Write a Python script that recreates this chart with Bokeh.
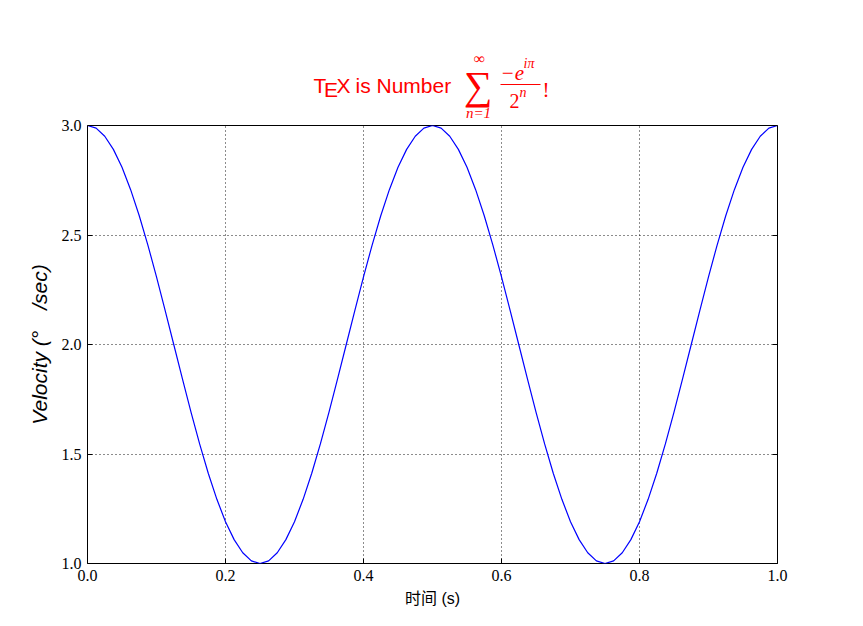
from bokeh.plotting import figure
from bokeh.layouts import column
from bokeh.models import (LinearAxis, FixedTicker, PrintfTickFormatter,
                          Range1d, CustomJSTickFormatter)
from bokeh.core.properties import value
from bokeh.embed import file_html
from bokeh.resources import INLINE

# ---------------- data ----------------
time_s = [0.0, 0.0125, 0.025, 0.0375, 0.05, 0.0625, 0.075, 0.0875, 0.1, 0.1125,
          0.125, 0.1375, 0.15, 0.1625, 0.175, 0.1875, 0.2, 0.2125, 0.225, 0.2375,
          0.25, 0.2625, 0.275, 0.2875, 0.3, 0.3125, 0.325, 0.3375, 0.35, 0.3625,
          0.375, 0.3875, 0.4, 0.4125, 0.425, 0.4375, 0.45, 0.4625, 0.475, 0.4875,
          0.5, 0.5125, 0.525, 0.5375, 0.55, 0.5625, 0.575, 0.5875, 0.6, 0.6125,
          0.625, 0.6375, 0.65, 0.6625, 0.675, 0.6875, 0.7, 0.7125, 0.725, 0.7375,
          0.75, 0.7625, 0.775, 0.7875, 0.8, 0.8125, 0.825, 0.8375, 0.85, 0.8625,
          0.875, 0.8875, 0.9, 0.9125, 0.925, 0.9375, 0.95, 0.9625, 0.975, 0.9875,
          1.0]
velocity = [3.000, 2.988, 2.951, 2.891, 2.809, 2.707, 2.588, 2.454, 2.309, 2.156,
            2.000, 1.844, 1.691, 1.546, 1.412, 1.293, 1.191, 1.109, 1.049, 1.012,
            1.000, 1.012, 1.049, 1.109, 1.191, 1.293, 1.412, 1.546, 1.691, 1.844,
            2.000, 2.156, 2.309, 2.454, 2.588, 2.707, 2.809, 2.891, 2.951, 2.988,
            3.000, 2.988, 2.951, 2.891, 2.809, 2.707, 2.588, 2.454, 2.309, 2.156,
            2.000, 1.844, 1.691, 1.546, 1.412, 1.293, 1.191, 1.109, 1.049, 1.012,
            1.000, 1.012, 1.049, 1.109, 1.191, 1.293, 1.412, 1.546, 1.691, 1.844,
            2.000, 2.156, 2.309, 2.454, 2.588, 2.707, 2.809, 2.891, 2.951, 2.988,
            3.000]
x_ticks = [0.0, 0.2, 0.4, 0.6, 0.8, 1.0]
y_ticks = [1.0, 1.5, 2.0, 2.5, 3.0]
x_label = "时间 (s)"
y_label = "Velocity (°\u2003/sec)"

# ---------------- layout ----------------
W = 855
TH = 125                   # height of the title strip
OV = 20                    # overlap of the main plot onto the title strip
MH = 618 - TH + OV         # height of the main plot
FL, FR = 87, 777           # frame left / right in pixels
FT, FB = OV, 563 - TH + OV # frame top / bottom inside the main plot
X0, X1, Y0, Y1 = 0.0, 1.0, 1.0, 3.0

SERIF = "Liberation Serif"
SANS = "Liberation Sans"
RED = "#ff0000"

# ---------------- title strip (coordinates = page pixels) ----------------
tf = figure(width=W, height=TH, output_backend="svg", toolbar_location=None,
            x_range=Range1d(FL, FR), y_range=Range1d(TH, 0),
            x_axis_type=None, y_axis_type=None,
            min_border_left=FL, min_border_right=W - FR,
            min_border_top=0, min_border_bottom=0,
            margin=(0, 0, -OV, 0))
tf.title = None
tf.grid.visible = False
tf.outline_line_color = None
tf.background_fill_color = "white"
tf.border_fill_color = "white"


def piece(text, px, py, size, font, style="normal", align="left", baseline="alphabetic"):
    tf.text(x=[px], y=[py], text=[text], text_font=value(font),
            text_font_size=value(f"{size}px"), text_font_style=style,
            text_color=RED, text_align=align, text_baseline=baseline)


piece("T", 313, 85, 21, SANS)
piece("E", 323.5, 89, 21, SANS)
piece("X", 336, 85, 21, SANS)
piece("is Number", 355, 85, 21, SANS)
piece("∑", 477.5, 85, 40, SERIF, align="center", baseline="middle")
piece("∞", 479, 58, 16, SERIF, align="center", baseline="middle")
piece("n=1", 478, 112, 15, SERIF, style="italic", align="center")
piece("−e", 500, 72, 21, SERIF, style="italic")
piece("iπ", 523, 63, 14, SERIF, style="italic")
piece("2", 509, 100, 20, SERIF)
piece("n", 519, 92, 14, SERIF, style="italic")
piece("!", 542, 89, 21, SERIF)
tf.segment(x0=[500], y0=[84], x1=[540], y1=[84], line_color=RED, line_width=1)

# ---------------- main plot ----------------
p = figure(width=W, height=MH, output_backend="svg", toolbar_location=None,
           x_range=Range1d(X0, X1), y_range=Range1d(Y0, Y1),
           min_border_left=FL, min_border_right=W - FR,
           min_border_top=FT, min_border_bottom=MH - FB,
           x_axis_label=x_label, y_axis_label=y_label)
p.title = None

p.background_fill_color = "white"
p.border_fill_color = None
p.outline_line_color = "black"
p.outline_line_width = 1
p.outline_line_alpha = 1.0

for ax in (p.xaxis[0], p.yaxis[0]):
    ax.major_label_text_font = SERIF
    ax.major_label_text_font_size = "16px"
    ax.major_label_text_color = "black"
    ax.major_tick_in = 5
    ax.major_tick_out = 0
    ax.major_tick_line_color = "black"
    ax.minor_tick_line_color = None
    ax.axis_line_color = None
    ax.major_label_standoff = 6
    ax.formatter = PrintfTickFormatter(format="%.1f")

p.xaxis[0].ticker = FixedTicker(ticks=x_ticks)
p.yaxis[0].ticker = FixedTicker(ticks=y_ticks)

p.xaxis[0].axis_label_text_font = "'Liberation Sans', 'Noto Sans CJK SC'"
p.xaxis[0].axis_label_text_font_style = "normal"
p.xaxis[0].axis_label_text_font_size = "16px"
p.xaxis[0].axis_label_text_color = "black"
p.xaxis[0].axis_label_standoff = 6

p.yaxis[0].axis_label_text_font = SANS
p.yaxis[0].axis_label_text_font_style = "italic"
p.yaxis[0].axis_label_text_font_size = "21px"
p.yaxis[0].axis_label_text_color = "black"
p.yaxis[0].axis_label_standoff = 8

blank = CustomJSTickFormatter(code="return ''")
right_axis = LinearAxis(ticker=FixedTicker(ticks=y_ticks), formatter=blank,
                        major_tick_in=5, major_tick_out=0,
                        major_tick_line_color="black",
                        minor_tick_line_color=None, axis_line_color=None,
                        major_label_standoff=0)
p.add_layout(right_axis, "right")

p.grid.grid_line_color = "black"
p.grid.grid_line_dash = "1 3"
p.grid.grid_line_width = 1
p.grid.grid_line_alpha = 0.9

p.line(time_s, velocity, line_color="#0000ff", line_width=1.2)

layout = column(tf, p, spacing=0)
open("out.html", "w").write(file_html(layout, INLINE))
